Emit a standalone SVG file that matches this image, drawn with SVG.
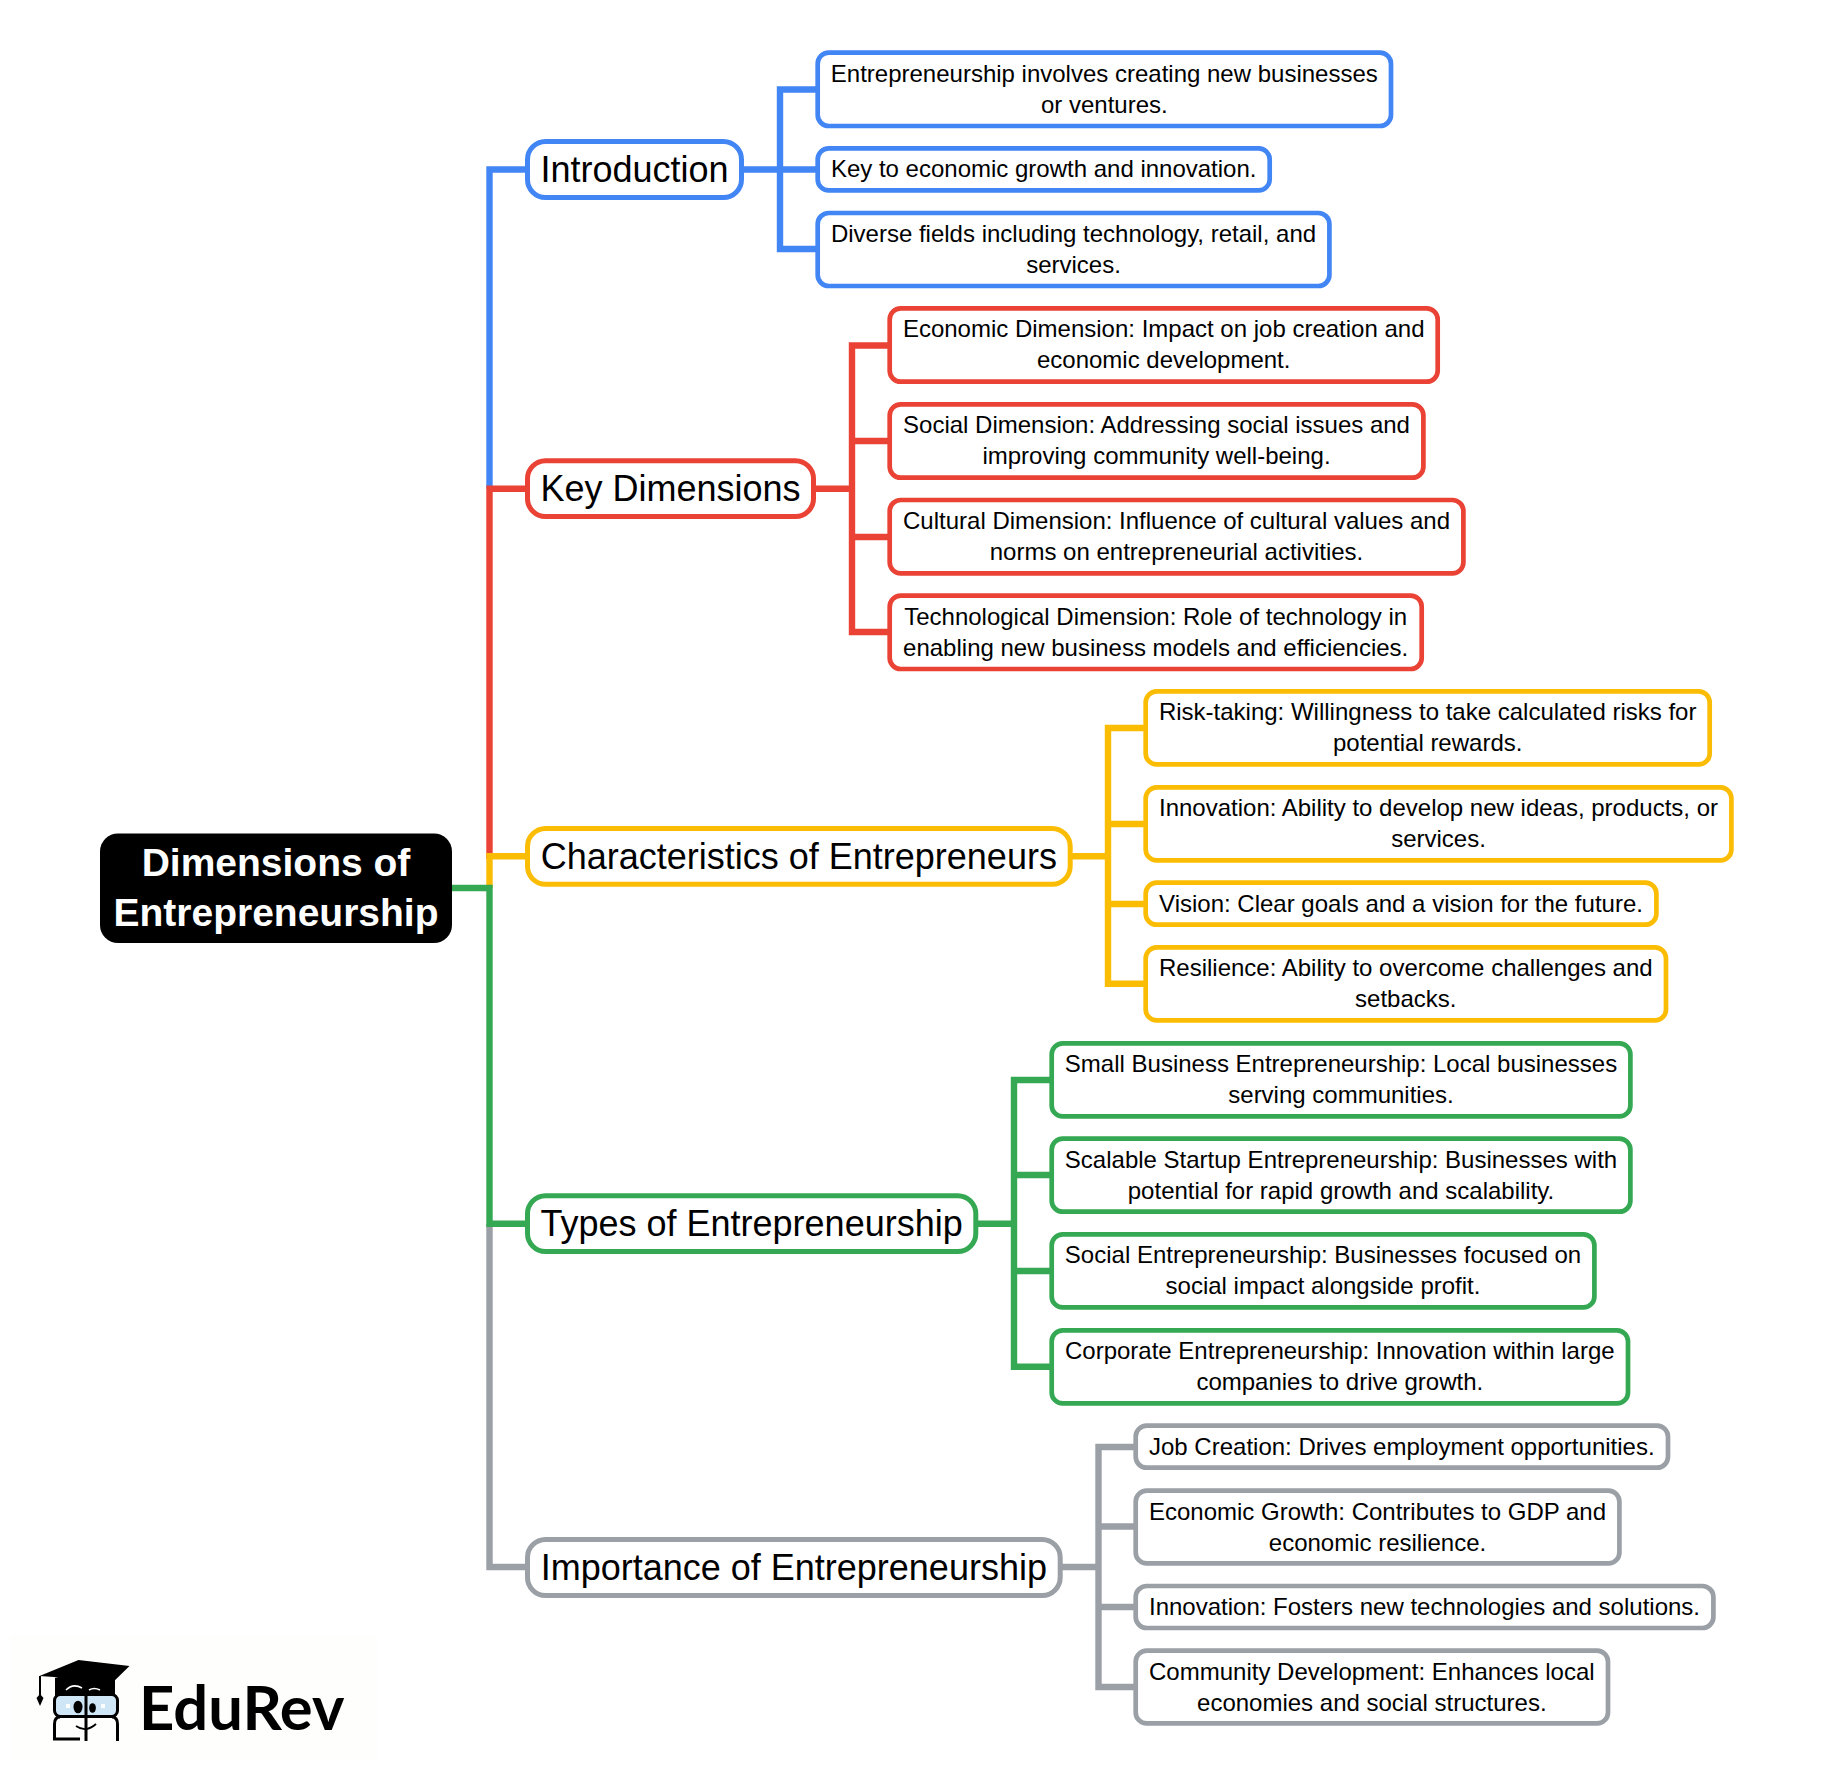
<svg xmlns="http://www.w3.org/2000/svg" width="1834" height="1777" viewBox="0 0 1834 1777">
<style>
text{font-family:"Liberation Sans",Arial,sans-serif;fill:#000;text-anchor:middle}
.leaf{font-size:24px}
.main{font-size:36px}
.root{font-size:39px;font-weight:700;fill:#fff}
.brand{font-family:Lato,"Open Sans",sans-serif;font-weight:700;font-size:61.5px;text-anchor:start}
rect.l{fill:#fff;stroke-width:4.7}
rect.m{fill:#fff;stroke-width:5}
.c{fill:none;stroke-width:6.4;stroke-linejoin:miter}
.b{stroke:#4285f4}.r{stroke:#ea4335}.y{stroke:#fbbc04}.g{stroke:#34a853}.k{stroke:#9aa0a6}
</style>
<rect width="1834" height="1777" fill="#fff"/>
<g id="connectors">
<path class="c k" d="M489.5 1224V1567H527"/>
<path class="c b" d="M489.5 488.7V169.5H527"/>
<path class="c r" d="M489.5 859V488.7H527"/>
<path class="c y" d="M489.5 888V856.3H527"/>
<path class="c g" d="M452 888H489.5V1223.7H527"/>
<path class="c b" d="M743 169.5H817M817 89.5H780V249H817"/>
<path class="c r" d="M815 488.7H852M889 345.5H852V632H889M852 441H889M852 537H889"/>
<path class="c y" d="M1072 856.3H1108M1145 728H1108V983.7H1145M1108 824H1145M1108 904H1145"/>
<path class="c g" d="M977 1223.7H1014M1051 1080H1014V1366.7H1051M1014 1175H1051M1014 1271H1051"/>
<path class="c k" d="M1062 1567H1098.5M1135 1447H1098.5V1687H1135M1098.5 1526.5H1135M1098.5 1607H1135"/>
</g>
<g id="root"><rect x="100" y="833.5" width="352" height="109.500" rx="18" fill="#000"/><text class="root" x="276" y="876">Dimensions of</text><text class="root" x="276" y="926">Entrepreneurship</text></g>
<g id="introduction"><rect class="m b" x="527.5" y="141.5" width="214" height="56" rx="18"/><text class="main" x="634.5" y="181.5">Introduction</text></g>
<g id="intro-1"><rect class="l b" x="817.7" y="52.7" width="573.3" height="73.3" rx="11"/><text class="leaf" x="1104.3" y="81.7">Entrepreneurship involves creating new businesses</text><text class="leaf" x="1104.3" y="112.9">or ventures.</text></g>
<g id="intro-2"><rect class="l b" x="817.7" y="148.4" width="452" height="42" rx="11"/><text class="leaf" x="1043.7" y="176.7">Key to economic growth and innovation.</text></g>
<g id="intro-3"><rect class="l b" x="817.7" y="213" width="511.7" height="73" rx="11"/><text class="leaf" x="1073.5" y="242">Diverse fields including technology, retail, and</text><text class="leaf" x="1073.5" y="273.2">services.</text></g>
<g id="key-dimensions"><rect class="m r" x="527.5" y="460.8" width="286" height="55.7" rx="18"/><text class="main" x="670.5" y="500.500">Key Dimensions</text></g>
<g id="key-1"><rect class="l r" x="889.7" y="308.4" width="548" height="73.3" rx="11"/><text class="leaf" x="1163.7" y="337.4">Economic Dimension: Impact on job creation and</text><text class="leaf" x="1163.7" y="368.400">economic development.</text></g>
<g id="key-2"><rect class="l r" x="889.7" y="404.4" width="533.7" height="73.3" rx="11"/><text class="leaf" x="1156.5" y="433.4">Social Dimension: Addressing social issues and</text><text class="leaf" x="1156.5" y="464">improving community well-being.</text></g>
<g id="key-3"><rect class="l r" x="889.7" y="500" width="573.7" height="73.3" rx="11"/><text class="leaf" x="1176.5" y="529">Cultural Dimension: Influence of cultural values and</text><text class="leaf" x="1176.5" y="560.2">norms on entrepreneurial activities.</text></g>
<g id="key-4"><rect class="l r" x="889.7" y="595.7" width="532" height="73.3" rx="11"/><text class="leaf" x="1155.7" y="624.7">Technological Dimension: Role of technology in</text><text class="leaf" x="1155.7" y="655.9">enabling new business models and efficiencies.</text></g>
<g id="characteristics"><rect class="m y" x="527.5" y="828.5" width="542.7" height="55.7" rx="18"/><text class="main" x="798.8" y="868.5">Characteristics of Entrepreneurs</text></g>
<g id="char-1"><rect class="l y" x="1145.7" y="691.4" width="564" height="73" rx="11"/><text class="leaf" x="1427.7" y="720.4">Risk-taking: Willingness to take calculated risks for</text><text class="leaf" x="1427.7" y="751">potential rewards.</text></g>
<g id="char-2"><rect class="l y" x="1145.7" y="787.4" width="585.7" height="73" rx="11"/><text class="leaf" x="1438.5" y="816.4">Innovation: Ability to develop new ideas, products, or</text><text class="leaf" x="1438.5" y="847.400">services.</text></g>
<g id="char-3"><rect class="l y" x="1145.7" y="882.7" width="510.7" height="42" rx="11"/><text class="leaf" x="1401" y="912">Vision: Clear goals and a vision for the future.</text></g>
<g id="char-4"><rect class="l y" x="1145.7" y="947.4" width="520.3" height="73" rx="11"/><text class="leaf" x="1405.8" y="976.4">Resilience: Ability to overcome challenges and</text><text class="leaf" x="1405.8" y="1007">setbacks.</text></g>
<g id="types"><rect class="m g" x="527.5" y="1195.8" width="448.3" height="55.7" rx="18"/><text class="main" x="751.6" y="1235.8">Types of Entrepreneurship</text></g>
<g id="type-1"><rect class="l g" x="1051.7" y="1043.4" width="578.7" height="73" rx="11"/><text class="leaf" x="1341" y="1072.4">Small Business Entrepreneurship: Local businesses</text><text class="leaf" x="1341" y="1103">serving communities.</text></g>
<g id="type-2"><rect class="l g" x="1051.7" y="1138.7" width="578.7" height="73" rx="11"/><text class="leaf" x="1341" y="1167.7">Scalable Startup Entrepreneurship: Businesses with</text><text class="leaf" x="1341" y="1198.9">potential for rapid growth and scalability.</text></g>
<g id="type-3"><rect class="l g" x="1051.7" y="1234.4" width="542.7" height="73" rx="11"/><text class="leaf" x="1323" y="1263.4">Social Entrepreneurship: Businesses focused on</text><text class="leaf" x="1323" y="1294">social impact alongside profit.</text></g>
<g id="type-4"><rect class="l g" x="1051.7" y="1330.4" width="576.3" height="73" rx="11"/><text class="leaf" x="1339.8" y="1359.4">Corporate Entrepreneurship: Innovation within large</text><text class="leaf" x="1339.8" y="1390">companies to drive growth.</text></g>
<g id="importance"><rect class="m k" x="527.5" y="1539.5" width="532.7" height="56" rx="18"/><text class="main" x="793.8" y="1579.5">Importance of Entrepreneurship</text></g>
<g id="imp-1"><rect class="l k" x="1135.7" y="1425.7" width="532.3" height="42" rx="11"/><text class="leaf" x="1401.8" y="1455">Job Creation: Drives employment opportunities.</text></g>
<g id="imp-2"><rect class="l k" x="1135.7" y="1490.7" width="483.7" height="72.7" rx="11"/><text class="leaf" x="1377.5" y="1519.7">Economic Growth: Contributes to GDP and</text><text class="leaf" x="1377.5" y="1550.500">economic resilience.</text></g>
<g id="imp-3"><rect class="l k" x="1135.7" y="1586" width="577.7" height="42" rx="11"/><text class="leaf" x="1424.5" y="1615">Innovation: Fosters new technologies and solutions.</text></g>
<g id="imp-4"><rect class="l k" x="1135.7" y="1650.7" width="472.3" height="72.7" rx="11"/><text class="leaf" x="1371.8" y="1679.7">Community Development: Enhances local</text><text class="leaf" x="1371.8" y="1710.500">economies and social structures.</text></g>
<g id="logo">
<rect x="10" y="1635" width="367" height="125" fill="#fefefd"/>
<rect x="55" y="1678" width="60" height="18" fill="#000"/>
<path d="M39.5 1676L78.5 1660L129.5 1666L106 1689L54 1677Z" fill="#000"/>
<path d="M40 1676V1696" stroke="#000" stroke-width="2" fill="none"/>
<path d="M40 1694L43.500 1698L40 1706L36.500 1698Z" fill="#000"/>
<path d="M66 1690Q73 1683 82 1688M89 1690Q94 1687 100 1690" stroke="#fff" stroke-width="1.6" fill="none"/>
<rect x="54.5" y="1694.5" width="63" height="22" rx="6" fill="#cfe6f7" stroke="#000" stroke-width="3"/>
<path d="M60 1717Q54.500 1717 54.500 1724V1739H80M112 1717Q117.500 1717 117.500 1724V1741M86 1694V1741" fill="none" stroke="#000" stroke-width="3"/>
<ellipse cx="78" cy="1707" rx="4.500" ry="6.300" fill="#000"/>
<ellipse cx="92.500" cy="1708" rx="3.400" ry="4.800" fill="#000"/>
<path d="M76 1726Q86 1733 96 1724" stroke="#000" stroke-width="1.800" fill="none"/>
<rect x="66" y="1704" width="4" height="4" fill="#fff"/>
<rect x="101" y="1704" width="4" height="4" fill="#fff"/>
<text class="brand" x="139" y="1729.500">EduRev</text>
</g>
</svg>
